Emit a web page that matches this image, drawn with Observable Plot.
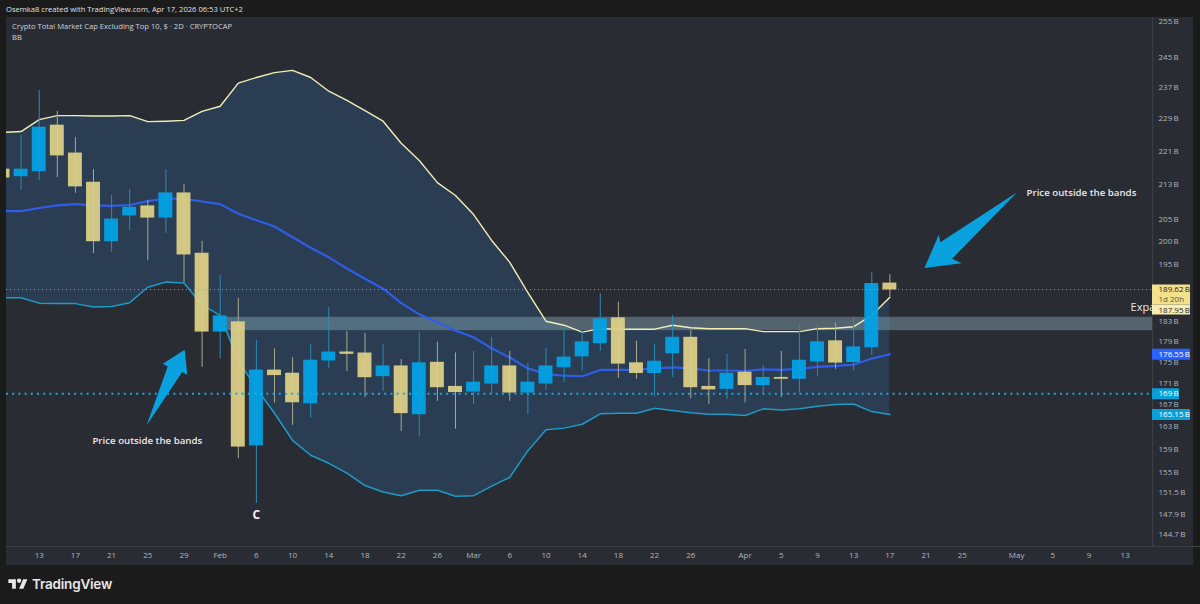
<!DOCTYPE html>
<html><head><meta charset="utf-8">
<script src="https://cdn.jsdelivr.net/npm/d3@7"></script>
<script src="https://cdn.jsdelivr.net/npm/@observablehq/plot@0.6"></script>
<style>
html,body{margin:0;padding:0;background:#1b1b1c;width:1200px;height:604px;overflow:hidden;font-family:"Open Sans",sans-serif}
#panel{position:absolute;left:6px;top:17px;width:1187px;height:548px;background:#2a2c33}
#chart{position:absolute;left:0;top:0}
#hdr{position:absolute;left:6px;top:3px;font-size:7.6px;color:#e0e0e0;line-height:13px;white-space:nowrap}
#ttl{position:absolute;left:12px;top:21px;font-size:7.6px;color:#d0d2d8;line-height:11px;white-space:nowrap}
#brand{position:absolute;left:8px;top:576px;display:flex;align-items:center;color:#e8e8e8;font-size:13.5px;font-weight:600;font-family:Inter,sans-serif;letter-spacing:-.2px}
#brand svg{width:20px;height:15px;margin-right:4px;fill:#e8e8e8}
</style></head><body>
<div id="panel"></div><div id="chart"></div>
<div id="hdr">Osemka8 created with TradingView.com, Apr 17, 2026 06:53 UTC+2</div>
<div id="ttl">Crypto Total Market Cap Excluding Top 10, $ · 2D · CRYPTOCAP<br>BB</div>
<div id="brand"><svg viewBox="0 0 36 28"><path d="M14 22H7V11H0V4h14v18zM28 22h-8l7.5-18h8L28 22z"/><circle cx="20" cy="7" r="4"/></svg>TradingView</div>
<script>
// Candle data in billions of USD, one candle every two days; index 0 is Jan 13.
const firstIndex = -2;
const opens  = [216.5,214.9,216.1,227.3,220.4,213.4,200.0,205.8,207.9,205.3,210.9,197.3,181.0,182.9,159.6,173.4,172.8,167.2,175.3,176.9,176.7,172.3,174.2,165.2,174.9,170.3,169.4,170.9,174.2,169.2,170.9,174.0,176.1,178.7,183.7,174.8,172.9,176.7,179.8,170.3,169.9,173.0,170.6,172.0,171.8,175.1,179.1,175.0,177.9,190.9];
const closes = [214.6,216.5,226.8,219.9,212.5,200.0,204.9,207.6,205.3,210.9,197.1,181.0,184.1,159.4,173.4,172.5,167.4,175.3,176.9,176.6,172.1,174.2,165.4,174.8,170.2,169.3,171.1,174.2,169.2,171.1,174.2,175.9,178.9,183.5,174.7,172.9,175.1,179.8,170.2,169.8,172.8,170.6,172.0,171.8,175.3,178.9,174.9,177.9,190.8,189.62];
const highs  = [216.5,224.8,236.3,230.9,224.3,216.5,210.4,211.8,209.2,216.5,213.0,200.0,192.6,187.8,179.3,177.6,175.9,178.5,185.9,181.0,180.7,178.5,175.5,180.8,178.9,176.8,177.1,179.8,177.1,174.8,177.7,181.8,181.2,188.8,187.0,179.1,178.5,184.3,181.2,175.7,176.5,177.5,174.4,177.1,182.3,182.3,182.7,184.0,193.3,192.8];
const lows   = [214.6,211.6,213.9,214.6,210.9,197.3,197.6,202.4,195.8,201.8,191.1,174.0,175.7,157.3,149.7,167.3,163.2,164.5,173.8,173.2,168.3,169.5,162.1,161.2,167.6,162.5,167.0,168.9,167.6,165.2,169.6,171.1,173.3,177.1,171.9,171.7,168.4,172.1,168.1,167.0,167.9,167.3,169.0,168.3,169.1,172.3,173.6,173.3,176.3,188.1];
// Bollinger Bands
const upper  = [225.6,225.8,228.8,229.8,229.8,229.7,229.7,229.8,228.3,228.4,228.6,230.9,232.2,238.2,239.7,241.0,241.6,239.7,236.1,233.7,231.1,228.4,222.9,218.7,213.4,210.4,206.0,200.2,195.4,189.0,183.1,182.3,180.9,181.6,181.5,181.5,181.5,182.3,181.8,181.6,181.6,181.6,181.0,181.0,181.0,181.6,181.7,182.0,184.3,188.0];
const middle = [206.8,206.8,207.5,208.1,208.4,208.1,208.0,208.2,209.1,209.7,209.6,209.0,208.4,206.2,204.7,203.3,200.9,198.6,196.5,194.1,191.9,189.8,186.8,184.5,182.9,181.2,179.9,177.7,175.9,173.8,172.7,172.4,172.3,173.5,173.5,173.5,173.8,174.0,173.8,173.4,173.4,173.3,173.6,173.5,173.7,174.1,174.3,174.5,175.7,176.55];
const lower  = [187.9,187.9,186.8,186.7,186.7,186.0,186.1,186.9,190.1,191.2,191.0,186.4,184.3,175.3,170.0,165.4,160.5,157.9,156.5,154.8,152.7,151.6,151.0,151.9,151.9,150.9,151.0,152.6,154.1,158.7,162.4,162.7,163.4,165.3,165.4,165.4,166.3,165.9,165.5,165.2,165.2,165.0,166.2,166.0,166.2,166.7,167.0,167.1,165.7,165.15];
const priceTicks = [255,245,237,229,221,213,205,200,195,183,179,175,171,167,163,159,155,151.5,147.9,144.7];
const dateTicks  = [0,2,4,6,8,10,12,14,16,18,20,22,24,26,28,30,32,34,36,39,41,43,45,47,49,51,54,56,58,60];
const dateLabels = ["13","17","21","25","29","Feb","6","10","14","18","22","26","Mar","6","10","14","18","22","26","Apr","5","9","13","17","21","25","May","5","9","13"];
const lastPrice = 189.62, supportLevel = 169;
const zoneLow = 181.2, zoneHigh = 183.9, zoneStart = 9.7;
const arrowRight = {i:[54.03,49.79,49.70,48.91,50.96,50.44], v:[211.17,199.82,201.46,194.17,195.24,196.19]};
const arrowLeft  = {i:[5.93,7.90,8.18,8.04,6.83,7.10], v:[163.19,173.09,172.59,177.42,174.70,174.18]};

const xMin=-1.807, xMax=61.51, tagEnd=63.61, tagShort=63.0;
const candles = opens.map((o,k)=>({i:firstIndex+k,o,c:closes[k],h:highs[k],l:lows[k],up:upper[k],mid:middle[k],lo:lower[k],rise:closes[k]>o}));
const BLUE="#03a3e6", YEL="#dccf86";
const poly=a=>Plot.line(a.i.map((d,k)=>({i:d,v:a.v[k]})),{x:"i",y:"v",fill:"#0aa2de",stroke:"none",curve:"linear-closed"});
const tagRows=[
 {y:188.6,w:20,x2:tagEnd,c:"#f3e08c"},{y:185.5,w:10,x2:tagEnd,c:"#f7ecb2"},
 {y:176.55,w:11,x2:tagEnd,c:"#2962ff"},{y:169,w:11,x2:tagShort,c:"#0a9fd6"},{y:165.15,w:11,x2:tagEnd,c:"#0a9fd6"}];
const tagTexts=[
 {y:189.62,t:"189.62\u2009B",c:"#1d1d1d"},{y:187.56,t:"1d 20h",c:"#5f5a34"},{y:185.3,t:"187.95\u2009B",c:"#1d1d1d"},
 {y:176.55,t:"176.55\u2009B",c:"#ffffff"},{y:169,t:"169\u2009B",c:"#ffffff"},{y:165.15,t:"165.15\u2009B",c:"#ffffff"}];
const F='"Open Sans",sans-serif';

const plot=Plot.plot({
 width:1200,height:604,marginLeft:6,marginRight:48,marginTop:17,marginBottom:58,
 style:{background:"transparent",fontFamily:F,overflow:"visible"},
 x:{type:"linear",domain:[xMin,xMax]},
 y:{type:"log",domain:[142.75,256.13]},
 marks:[
  Plot.areaY(candles,{x:"i",y1:"lo",y2:"up",fill:"#2a3d52",clip:true}),
  Plot.rect([{}],{x1:zoneStart,x2:xMax,y1:zoneLow,y2:zoneHigh,fill:"#8fb3c4",fillOpacity:.42}),
  Plot.line(candles,{x:"i",y:"up",stroke:"#f0eeb4",strokeWidth:1.4,clip:true}),
  Plot.line(candles,{x:"i",y:"mid",stroke:"#2f5de8",strokeWidth:2.2,clip:true}),
  Plot.line(candles,{x:"i",y:"lo",stroke:"#1e9cc8",strokeWidth:1.5,clip:true}),
  Plot.ruleX(candles,{x:"i",y1:"l",y2:"h",stroke:d=>d.rise?"#2a8cb6":"#aaa88c",strokeWidth:1,clip:true}),
  Plot.rect(candles,{x1:d=>d.i-.385,x2:d=>d.i+.385,y1:"o",y2:"c",fill:d=>d.rise?BLUE:YEL,fillOpacity:.94,insetTop:-.4,insetBottom:-.4,clip:true}),
  Plot.ruleY([lastPrice],{stroke:"#a5a382",strokeWidth:1,strokeDasharray:"1 3"}),
  Plot.ruleY([supportLevel],{stroke:"#1fa6d8",strokeWidth:1.8,strokeDasharray:"2 4.2"}),
  poly(arrowRight),poly(arrowLeft),
  Plot.text(["Price outside the bands"],{x:54.55,y:210.9,textAnchor:"start",fill:"#e8e8e8",fontSize:9.7,fontWeight:600}),
  Plot.text(["Price outside the bands"],{x:2.94,y:160.5,textAnchor:"start",fill:"#e8e8e8",fontSize:9.7,fontWeight:600}),
  Plot.text(["C"],{x:12,y:147.75,fill:"#f2f2f2",fontSize:12,fontWeight:700}),
  Plot.text(["Expa"],{x:60.3,y:185.9,textAnchor:"start",fill:"#e8e8e8",fontSize:11}),
  Plot.ruleX([xMax],{stroke:"#3d3f46"}),
  Plot.ruleY([142.75],{x1:xMin,x2:tagEnd+1.7,stroke:"#3d3f46"}),
  Plot.axisY({anchor:"right",ticks:priceTicks,tickFormat:d=>`${d}\u2009B`,tickSize:0,tickPadding:6,label:null,fill:"#b2b5be",fontSize:8}),
  Plot.axisX({ticks:dateTicks,tickFormat:d=>dateLabels[dateTicks.indexOf(d)],tickSize:0,tickPadding:6,label:null,fill:"#b2b5be",fontSize:8}),
  Plot.ruleY(tagRows,{y:"y",x1:xMax,x2:"x2",stroke:"c",strokeWidth:"w"}),
  Plot.text(tagTexts,{y:"y",x:xMax,dx:6,text:"t",fill:"c",textAnchor:"start",fontSize:8,fontWeight:500})
 ]
});
document.getElementById("chart").append(plot);
</script>
</body></html>
